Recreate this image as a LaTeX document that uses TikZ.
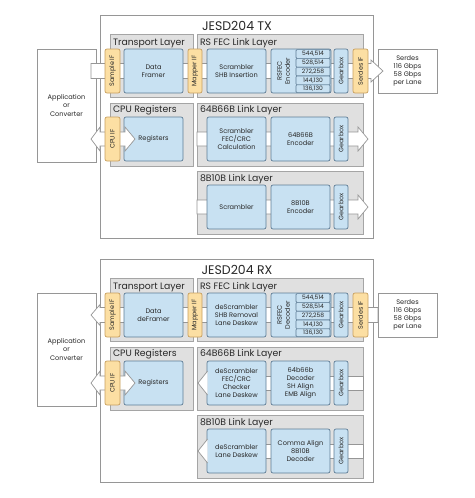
\documentclass[tikz,border=0pt]{standalone}
\usepackage{fontspec}
\setmainfont{Poppins}
\usetikzlibrary{calc}
\definecolor{outerc}{RGB}{150,150,150}
\definecolor{panelc}{RGB}{165,165,165}
\definecolor{panelf}{RGB}{224,224,224}
\definecolor{bluef}{RGB}{200,225,242}
\definecolor{blued}{RGB}{95,125,150}
\definecolor{iff}{RGB}{252,223,163}
\definecolor{ifd}{RGB}{200,160,95}
\definecolor{txtc}{RGB}{40,40,40}
\newcommand\bfnt{\fontsize{6.6}{8.1}\selectfont}
\newcommand\rfnt{\fontsize{6.4}{7}\selectfont}
\newcommand\nfnt{\fontsize{6}{6}\selectfont}
\newcommand\pfnt{\fontsize{9.3}{10}\selectfont}
\newcommand\tfnt{\fontsize{12.5}{14}\selectfont}
\newcommand\mkbox[7]{\node[#6, minimum width={(#4-#2)*1pt}, minimum height={(#5-#3)*1pt}] (#1) at ({(#2+#4)/2},{(#3+#5)/2}) {#7};}
\newcommand\mkrbox[7]{\node[#6, rotate=90, minimum width={(#5-#3)*1pt}, minimum height={(#4-#2)*1pt}] (#1) at ({(#2+#4)/2},{(#3+#5)/2}) {#7};}
\begin{document}
\begin{tikzpicture}[x=1pt,y=-1pt,
  every node/.style={inner sep=0pt, outer sep=0pt, text=txtc},
  outerbox/.style={draw=outerc, fill=white, line width=0.8pt},
  plainbox/.style={draw=outerc, fill=white, line width=0.8pt, align=center, font=\bfnt},
  panel/.style={draw=panelc, fill=panelf, line width=0.8pt},
  bbox/.style={draw=blued, fill=bluef, rounded corners=2pt, line width=0.7pt, align=center, font=\bfnt},
  gbox/.style={draw=blued, fill=bluef, rounded corners=2pt, line width=0.7pt, font=\rfnt},
  nbox/.style={draw=blued, fill=bluef, rounded corners=1pt, line width=0.6pt, font=\nfnt},
  ifbox/.style={draw=ifd, fill=iff, rounded corners=2pt, line width=0.7pt, font=\rfnt},
  rlabel/.style={rotate=90, align=center, font=\bfnt},
  plabel/.style={anchor=west, font=\pfnt},
  ttl/.style={font=\tfnt},
  band/.style={draw=outerc, fill=white, line width=0.7pt, line join=miter},
  headfill/.style={fill=white},
  headline/.style={draw=outerc, line width=0.7pt}
]
\useasboundingbox (0,0) rectangle (474,498);

% ================= TX =================
\mkbox{txout}{100}{15}{373}{238}{outerbox}{}
\node[ttl] (txtitle) at (237,25.5) {JESD204 TX};
\mkbox{txapp}{37}{49}{96}{162}{plainbox}{Application\\or\\Converter}
\mkbox{txser}{378}{49}{437}{93}{plainbox}{Serdes\\116 Gbps\\58 Gbps\\per Lane}
\mkbox{txtp}{110}{34}{193}{97}{panel}{}
\node[plabel] (txtpl) at (113,43) {Transport Layer};
\mkbox{txrs}{197}{34}{363}{97}{panel}{}
\node[plabel] (txrsl) at (200,43) {RS FEC Link Layer};
\mkbox{txcpu}{110}{103}{193}{166}{panel}{}
\node[plabel] (txcpul) at (113,110.5) {CPU Registers};
\mkbox{txsf}{197}{103}{363}{166}{panel}{}
\node[plabel] (txsfl) at (200,110.5) {64B66B Link Layer};
\mkbox{txeb}{197}{171}{363}{234}{panel}{}
\node[plabel] (txebl) at (200,179) {8B10B Link Layer};

% row 1 band + arrow to serdes
\coordinate (txr1) at (0,71);
\draw[band] ($(txapp.east|-txr1)+(-5,-7.5)$) -- ($(txser.west|-txr1)+(-7,-7.5)$) -- ++(0,-3.5)
  -- ($(txser.west|-txr1)+(5,0)$) -- ++(-12,11) -- ++(0,-3.5) -- ($(txapp.east|-txr1)+(-5,7.5)$) -- cycle;
% row 2 / row 3 output bands
\draw[band] ($(txsf.west|-0,139)+(0,-7)$) -- (358,132) -- (358,127) -- (368,139) -- (358,151) -- (358,146) -- ($(txsf.west|-0,139)+(0,7)$) -- cycle;
\draw[band] ($(txeb.west|-0,207)+(0,-7)$) -- (358,200) -- (358,195) -- (368,207) -- (358,219) -- (358,214) -- ($(txeb.west|-0,207)+(0,7)$) -- cycle;

% row 1 boxes
\mkrbox{txsif}{105}{49}{120}{93}{ifbox}{Sample IF}
\mkbox{txdf}{124}{49}{183}{93}{bbox}{Data\\Framer}
\mkrbox{txmif}{188}{49}{202}{93}{ifbox}{Mapper IF}
\mkbox{txscr1}{207}{49}{266}{93}{bbox}{Scrambler\\SHB Insertion}
\mkbox{txrsf}{271}{49}{331}{93}{bbox}{}
\node[rlabel] (txrsft) at (283.5,71) {RSFEC\\Encoder};
\mkbox{txn1}{296}{49.6}{330}{58.4}{nbox}{544,514}
\mkbox{txn2}{296}{58.4}{330}{67.2}{nbox}{528,514}
\mkbox{txn3}{296}{67.2}{330}{76}{nbox}{272,258}
\mkbox{txn4}{296}{76}{330}{84.8}{nbox}{144,130}
\mkbox{txn5}{296}{84.8}{330}{92.6}{nbox}{136,130}
\mkrbox{txgb1}{334}{49}{348}{93}{gbox}{Gearbox}
\mkrbox{txsrif}{353}{49}{368}{93}{ifbox}{Serdes IF}

% row 2
\mkbox{txreg}{124}{117}{183}{161}{bbox}{Registers}
\draw[band] ($(txapp.east|-0,139)+(-5,0)$) -- (100,127) -- (100,132) -- (125,132) -- (125,127) -- ($(txreg.west|-0,139)+(11,0)$)
  -- (125,151) -- (125,146) -- (100,146) -- (100,151) -- cycle;
\mkrbox{txcif}{105}{117}{120}{161}{ifbox}{CPU IF}
\mkbox{txscr2}{207}{117}{266}{161}{bbox}{Scrambler\\FEC/CRC\\Calculation}
\mkbox{txenc2}{271}{117}{330}{161}{bbox}{64B66B\\Encoder}
\mkrbox{txgb2}{334}{117}{348}{161}{gbox}{Gearbox}

% row 3
\mkbox{txscr3}{207}{185}{266}{229}{bbox}{Scrambler}
\mkbox{txenc3}{271}{185}{330}{229}{bbox}{8B10B\\Encoder}
\mkrbox{txgb3}{334}{185}{348}{229}{gbox}{Gearbox}

% ================= RX =================
\mkbox{rxout}{100}{259}{373}{482}{outerbox}{}
\node[ttl] (rxtitle) at (237,269.5) {JESD204 RX};
\mkbox{rxapp}{37}{293}{96}{406}{plainbox}{Application\\or\\Converter}
\mkbox{rxtp}{110}{278}{193}{341}{panel}{}
\node[plabel] (rxtpl) at (113,287) {Transport Layer};
\mkbox{rxrs}{197}{278}{363}{341}{panel}{}
\node[plabel] (rxrsl) at (200,287) {RS FEC Link Layer};
\mkbox{rxcpu}{110}{347}{193}{410}{panel}{}
\node[plabel] (rxcpul) at (113,354.5) {CPU Registers};
\mkbox{rxsf}{197}{347}{363}{410}{panel}{}
\node[plabel] (rxsfl) at (200,354.5) {64B66B Link Layer};
\mkbox{rxeb}{197}{415}{363}{478}{panel}{}
\node[plabel] (rxebl) at (200,423) {8B10B Link Layer};

% row 1 band with arrow to application
\draw[band] ($(rxapp.east|-0,315)+(-5,0)$) -- (100,304.5) -- (100,307.5) -- (378,307.5) -- (378,322.5) -- (100,322.5) -- (100,325.5) -- cycle;
\mkbox{rxser}{378}{293}{437}{337}{plainbox}{Serdes\\116 Gbps\\58 Gbps\\per Lane}
% row 2/3 bands
\draw[band] (207,376) rectangle (rxsf.east|-0,390);
\draw[band] (207,444) rectangle (rxeb.east|-0,458);

% row 1 boxes
\mkrbox{rxsif}{105}{293}{120}{337}{ifbox}{Sample IF}
\mkbox{rxdf}{124}{293}{183}{337}{bbox}{Data\\deFramer}
\mkrbox{rxmif}{188}{293}{202}{337}{ifbox}{Mapper IF}
\mkbox{rxscr1}{207}{293}{266}{337}{bbox}{deScrambler\\SHB Removal\\Lane Deskew}
\mkbox{rxrsf}{271}{293}{331}{337}{bbox}{}
\node[rlabel] (rxrsft) at (283.5,315) {RSFEC\\Decoder};
\mkbox{rxn1}{296}{293.6}{330}{302.4}{nbox}{544,514}
\mkbox{rxn2}{296}{302.4}{330}{311.2}{nbox}{528,514}
\mkbox{rxn3}{296}{311.2}{330}{320}{nbox}{272,258}
\mkbox{rxn4}{296}{320}{330}{328.8}{nbox}{144,130}
\mkbox{rxn5}{296}{328.8}{330}{336.6}{nbox}{136,130}
\mkrbox{rxgb1}{334}{293}{348}{337}{gbox}{Gearbox}
\mkrbox{rxsrif}{353}{293}{368}{337}{ifbox}{Serdes IF}

% row 2
\mkbox{rxreg}{124}{361}{183}{405}{bbox}{Registers}
\draw[band] ($(rxapp.east|-0,383)+(-5,0)$) -- (100,371) -- (100,376) -- (125,376) -- (125,371) -- ($(rxreg.west|-0,383)+(11,0)$)
  -- (125,395) -- (125,390) -- (100,390) -- (100,395) -- cycle;
\mkrbox{rxcif}{105}{361}{120}{405}{ifbox}{CPU IF}
\mkbox{rxscr2}{207}{361}{266}{405}{bbox}{deScrambler\\FEC/CRC\\Checker\\Lane Deskew}
\mkbox{rxdec2}{271}{361}{330}{405}{bbox}{64b66b\\Decoder\\SH Align\\EMB Align}
\mkrbox{rxgb2}{334}{361}{348}{405}{gbox}{Gearbox}
\fill[headfill] (198,383) -- (207.6,371) -- (207.6,395) -- cycle;
\draw[headline] (207.6,371) -- ($(rxsf.west|-0,383)+(1,0)$) -- (207.6,395);

% row 3
\mkbox{rxscr3}{207}{429}{266}{473}{bbox}{deScrambler\\Lane Deskew}
\mkbox{rxdec3}{271}{429}{330}{473}{bbox}{Comma Align\\8B10B\\Decoder}
\mkrbox{rxgb3}{334}{429}{348}{473}{gbox}{Gearbox}
\fill[headfill] (198,451) -- (207.6,439) -- (207.6,463) -- cycle;
\draw[headline] (207.6,439) -- ($(rxeb.west|-0,451)+(1,0)$) -- (207.6,463);
\end{tikzpicture}
\end{document}
